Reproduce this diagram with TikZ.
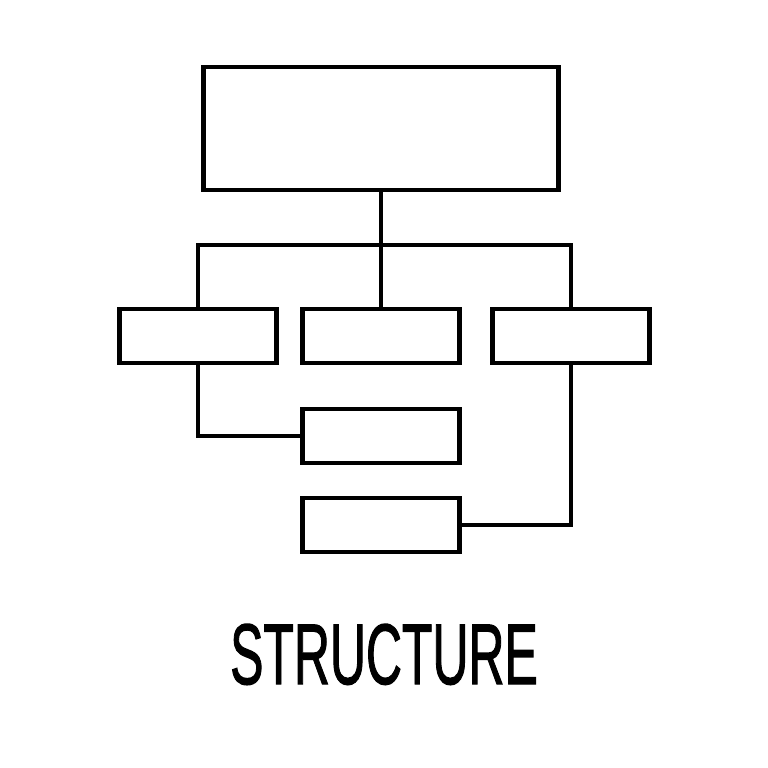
\documentclass[tikz,border=0pt]{standalone}
\usepackage{fontspec}
\setmainfont{Liberation Sans}
\newfontfamily\capfont[FakeBold=1.6]{Liberation Sans}
\usetikzlibrary{positioning}

\tikzset{
  orgbox/.style={draw, line width=4.5pt, minimum width=157pt, minimum height=54pt, inner sep=0pt},
  link/.style={line width=4.5pt}
}

\begin{document}
\begin{tikzpicture}[x=1pt,y=-1pt]
\useasboundingbox (0,0) rectangle (768,768);
\node[orgbox, minimum width=355pt, minimum height=123pt] (head) at (381,128.5) {};
\node[orgbox] (left) at (198,336) {};
\node[orgbox] (mid) at (381,336) {};
\node[orgbox] (right) at (571,336) {};
\node[orgbox] (subA) at (381,436) {};
\node[orgbox] (subB) at (381,525) {};
\coordinate (bus) at (381,245);
% connectors
\draw[link] (head.south) -- (mid.north);
\draw[link] (left.north) |- (bus) -| (right.north);
\draw[link] (left.south) |- (subA.west);
\draw[link] (right.south) |- (subB.east);
% caption
\node[anchor=base, inner sep=0pt, xscale=0.58, font=\fontsize{86}{86}\capfont] (title) at (384,684) {STRUCTURE};
\end{tikzpicture}
\end{document}
